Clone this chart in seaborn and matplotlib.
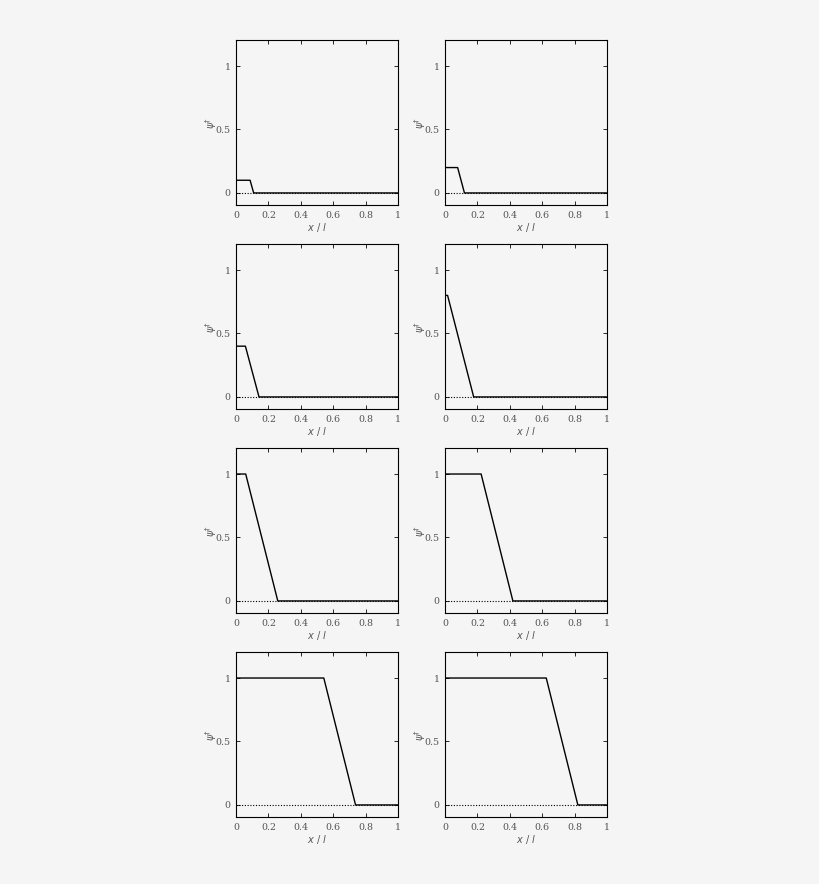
import matplotlib
matplotlib.use("Agg")
import matplotlib.pyplot as plt
import seaborn as sns
import numpy as np
import pandas as pd

# Front profiles: plateau height, plateau end, ramp end (x / l)
heights = [0.1, 0.2, 0.4, 0.8, 1.0, 1.0, 1.0, 1.0]
plateau_end = [0.087, 0.078, 0.058, 0.016, 0.060, 0.223, 0.542, 0.625]
ramp_end = [0.109, 0.120, 0.142, 0.177, 0.258, 0.419, 0.738, 0.820]

x_ticks = [0, 0.2, 0.4, 0.6, 0.8, 1]
x_ticklabels = ["0", "0.2", "0.4", "0.6", "0.8", "1"]
y_ticks = [0, 0.5, 1]
y_ticklabels = ["0", "0.5", "1"]

sns.set_theme(style="ticks")
bg = "#f5f5f5"
plt.rcParams["font.family"] = ["DejaVu Serif"]
plt.rcParams["axes.facecolor"] = bg
plt.rcParams["figure.facecolor"] = bg

fig = plt.figure(figsize=(8.2, 8.84), dpi=100)
W, H = 820, 884
col_left = [236, 445]
row_top = [40, 244, 448, 652]
aw, ah = 162, 165

for i in range(8):
    r, c = divmod(i, 2)
    ax = fig.add_axes([col_left[c] / W, 1 - (row_top[r] + ah) / H, aw / W, ah / H])
    df = pd.DataFrame({
        "x": [0, plateau_end[i], ramp_end[i], 1],
        "psi": [heights[i], heights[i], 0, 0],
    })
    base = pd.DataFrame({"x": [0, 1], "psi": [0, 0]})
    sns.lineplot(data=base, x="x", y="psi", ax=ax, color="black",
                 linestyle=(0, (1, 1.5)), linewidth=0.8)
    sns.lineplot(data=df, x="x", y="psi", ax=ax, color="black", linewidth=1.0)
    ax.set_xlim(0, 1)
    ax.set_ylim(-0.095, 1.205)
    ax.set_xticks(x_ticks)
    ax.set_xticklabels(x_ticklabels)
    ax.set_yticks(y_ticks)
    ax.set_yticklabels(y_ticklabels)
    ax.tick_params(direction="in", top=True, right=True, length=3, width=0.7,
                   labelsize=6.8, labelcolor="#555555", pad=4)
    for s in ax.spines.values():
        s.set_linewidth(0.8)
        s.set_color("black")
    ax.set_xlabel(r"$x\ /\ l$", fontsize=7, color="#555555", labelpad=1)
    ax.set_ylabel(r"$\psi^{\dagger}$", fontsize=7, color="#555555", labelpad=-3)

fig.savefig("out.png", dpi=100, facecolor=bg)
